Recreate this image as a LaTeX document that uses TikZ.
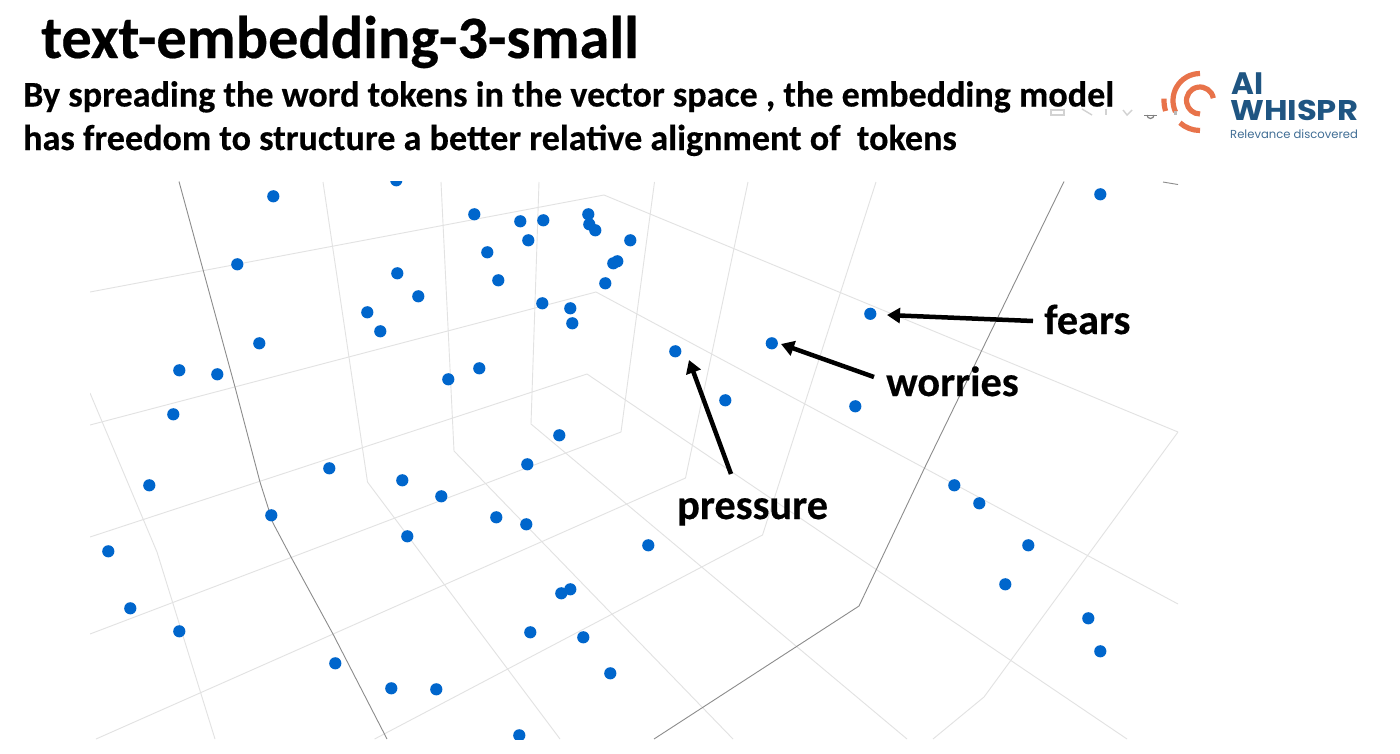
\documentclass[tikz,border=0pt]{standalone}
\usepackage{fontspec}
\setmainfont{Carlito}[BoldFeatures={FakeBold=0.35}]
\newfontfamily\logofont{Poppins}
\usetikzlibrary{arrows.meta}
\definecolor{dotblue}{HTML}{0066CC}
\definecolor{gridgrey}{HTML}{E2E2E2}
\definecolor{axisgrey}{HTML}{8C8C8C}
\definecolor{logoorange}{HTML}{E8734A}
\definecolor{logoblue}{HTML}{1F5582}
\definecolor{ghost}{HTML}{D2D2D2}
\tikzset{
  dot/.style={circle,fill=dotblue,inner sep=0pt,minimum size=12.2pt},
  gridline/.style={draw=gridgrey,line width=0.9pt,line join=round},
  axisline/.style={draw=axisgrey,line width=0.9pt,line join=round},
  pointer/.style={draw=black,line width=4.5pt,-{Triangle[length=13pt,width=15pt]}},
  word/.style={font=\fontsize{42.3}{42.3}\selectfont\bfseries,inner sep=0pt,anchor=base west},
  headline/.style={font=\fontsize{60.3}{60.3}\selectfont\bfseries,inner sep=0pt,anchor=base west},
  subline/.style={font=\fontsize{36.1}{36.1}\selectfont\bfseries,inner sep=0pt,anchor=base west},
  arcline/.style={draw=logoorange,line width=5.2pt},
  logotext/.style={font=\logofont\bfseries,text=logoblue,inner sep=0pt,anchor=base west},
  ghosticon/.style={draw=ghost,line width=1.4pt}
}
\begin{document}
\begin{tikzpicture}[x=1pt,y=-1pt]
\useasboundingbox (0,0) rectangle (1400,753);
\fill[white] (0,0) rectangle (1400,753);
\begin{scope}
\clip (90,181.5) rectangle (1178,739);
\draw[gridline] (90,292)--(604,195)--(1178,432);
\draw[gridline] (90,425)--(596,292)--(1178,604);
\draw[gridline] (90,537)--(587,374)--(1127,739);
\draw[gridline] (90,634)--(621,432)--(654.5,182);
\draw[gridline] (96,739)--(685.5,478)--(748,182);
\draw[gridline] (374.6,739)--(762.5,535)--(876,182);
\draw[gridline] (323,182)--(367.5,482)--(560,739);
\draw[gridline] (441,182)--(454,451)--(733,739);
\draw[gridline] (539,182)--(531,424)--(907,739);
\draw[gridline] (90,393)--(157,552)--(215,739);
\draw[gridline] (933,739)--(984,697)--(1178,432);
\draw[axisline] (179,181.5)--(235,387)--(260,482)--(273,523)--(291,557)--(333.5,635)--(387,739);
\draw[axisline] (654,739)--(859,606)--(925,467)--(998,317)--(1064,181.5);
\draw[axisline] (1163,182)--(1178,184.5);
\foreach \n/\x/\y in {a1/273/196,a2/396/180,a3/474/214,a4/520/221,a5/543/220,a6/588/214,a7/589/224,a8/595/230,a9/528/240,a10/630/240,
 a11/487/252,a12/617/261,a13/613/263,a14/237/264,a15/397/273,a16/605/283,a17/498/280,a18/418/296,a19/542/303,a20/570/308,
 a21/367/312,a22/572/323,a23/380/331,a24/259/343,a25/179/370,a26/217/374,a27/479/368,a28/448/379,a29/173/414,
 a32/725/400,a33/855/406,a34/559/435,a35/1100/194,a36/527/464,a37/329/468,a38/402/480,a39/149/485,a40/441/496,
 a41/271/515,a42/496/517,a43/526/524,a44/407/536,a45/108/551,a46/648/545,a47/954/485,a48/979/503,a49/1028/545,a50/1005/584,
 a51/561/593,a52/570/589,a53/130/608,a54/179/631,a55/530/632,a56/583/637,a57/1088/618,a58/1100/651,a59/335/663,a60/391/688,
 a61/436/689,a62/610/673,a63/519/735,pressuredot/675/351,worriesdot/771.5/343,fearsdot/870/313.5}
 {\node[dot] (\n) at (\x+0.3,\y+0.3) {};}
\end{scope}
% Faint toolbar icons under the text
\draw[ghosticon] (1051,110) rectangle (1064,115);
\draw[ghosticon] (1082,109) -- (1092,115);
\draw[ghosticon] (1106,109) -- (1106,115);
\draw[ghosticon] (1123,110) -- (1127,115) -- (1132,110);
\draw[draw=gray,line width=1.2pt] (1144,115.5) -- (1157,115.5);
\draw[draw=gray,line width=1.2pt] (1147,115) arc[start angle=180,end angle=0,radius=3.5];
% Title
\node[headline] (title) at (41,58) {text-embedding-3-small};
\node[subline] (subone) at (23,106.5) {By spreading the word tokens in the vector space , the embedding model};
\node[subline] (subtwo) at (23,150) {has freedom to structure a better relative alignment of\ \ tokens};
% Labels
\node[word] (fears) at (1044,334) {fears};
\node[word] (worries) at (886,396) {worries};
\node[word] (pressure) at (677,519) {pressure};
\coordinate (fearstail) at (1033,321);
\coordinate (fearstip) at (887,315);
\coordinate (worriestail) at (874,377);
\coordinate (worriestip) at (781,344);
\coordinate (pressuretail) at (731,474);
\coordinate (pressuretip) at (689,360);
\draw[pointer] (fearstail)--(fearstip);
\draw[pointer] (worriestail)--(worriestip);
\draw[pointer] (pressuretail)--(pressuretip);
% Logo
\coordinate (logoc) at (1200,100.5);
\draw[arcline] ([shift={(-90:27)}]logoc) arc[start angle=-90,end angle=-205,radius=27];
\draw[arcline] ([shift={(-228:30)}]logoc) arc[start angle=-228,end angle=-270,radius=30];
\draw[arcline] ([shift={(-10:13.5)}]logoc) arc[start angle=-10,end angle=-270,radius=13.5];
\draw[arcline] ([shift={(-177:36)}]logoc) arc[start angle=-177,end angle=-197,radius=36];
\fill[ghost!70!gray] (1173.5,111) rectangle (1177,114.5);
\node[logotext,font=\logofont\bfseries\fontsize{31}{31}\selectfont] (logoai) at (1231,94) {AI};
\node[logotext,font=\logofont\bfseries\fontsize{28.5}{28.5}\selectfont,xscale=1.13] (logowhispr) at (1230,120.5) {WHISPR};
\node[font=\logofont\fontsize{11.6}{11.6}\selectfont,text=logoblue!85!white,inner sep=0pt,anchor=base west] (logotag) at (1230,138) {Relevance discovered};
\end{tikzpicture}
\end{document}
